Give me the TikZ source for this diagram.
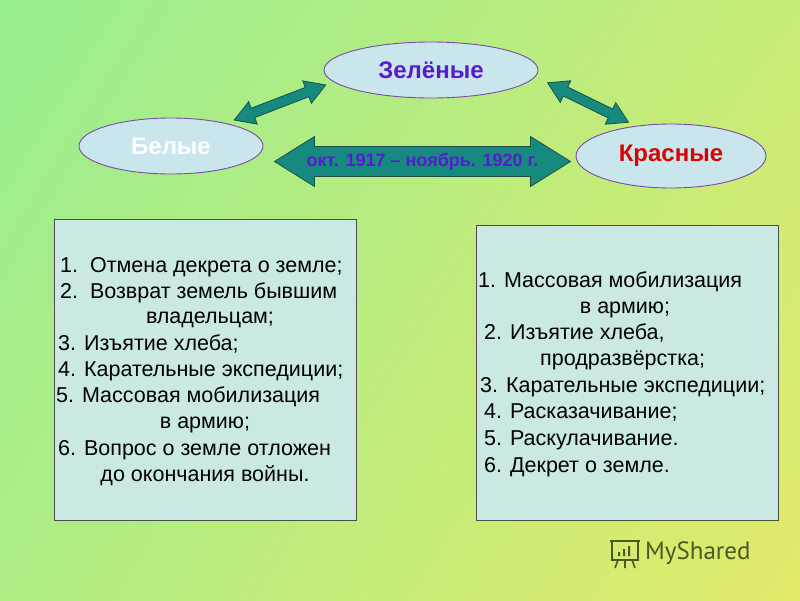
\documentclass[tikz,border=0pt]{standalone}
\usepackage{fontspec}
\setmainfont{Liberation Sans}
\newfontfamily\wmfont{PT Sans}
\usetikzlibrary{shapes.geometric,shadings}
\definecolor{bgA}{HTML}{98EE90}
\definecolor{bgB}{HTML}{E2EA6A}
\definecolor{ellfill}{HTML}{C8E6EC}
\definecolor{ellline}{HTML}{7A4CA8}
\definecolor{arrfill}{HTML}{168A7E}
\definecolor{arrline}{HTML}{1E4F46}
\definecolor{boxfill}{HTML}{C9E9E2}
\definecolor{zel}{HTML}{5A1AD0}
\definecolor{wm}{HTML}{4A5A20}
\newcommand{\dblarrow}[7]{% cx cy angle halflen shafthalf headhalf headlen
  \begin{scope}[shift={(#1,#2)},rotate=#3]
  \draw[arrstyle] (-#4,0) -- (-#4+#7,#6) -- (-#4+#7,#5) -- (#4-#7,#5) -- (#4-#7,#6) -- (#4,0)
     -- (#4-#7,-#6) -- (#4-#7,-#5) -- (-#4+#7,-#5) -- (-#4+#7,-#6) -- cycle;
  \end{scope}}
\begin{document}
\begin{tikzpicture}[x=1pt,y=-1pt,
  ell/.style={ellipse,draw=ellline,fill=ellfill,line width=0.9pt,inner sep=0pt,font=\bfseries\fontsize{24}{28}\selectfont},
  arrstyle/.style={fill=arrfill,draw=arrline,line width=0.8pt},
  box/.style={draw=black!70,fill=boxfill,line width=0.8pt},
  tl/.style={anchor=base west,inner sep=0pt,font=\fontsize{21.5}{24}\selectfont},
  tc/.style={anchor=base,inner sep=0pt,font=\fontsize{21.5}{24}\selectfont}]
\useasboundingbox (0,0) rectangle (800,600);
\shade[upper left=bgA,lower left=bgA!70!bgB,upper right=bgA!35!bgB,lower right=bgB] (0,0) rectangle (800,600);
% arrows
\dblarrow{280}{102.5}{21}{49}{5}{12}{20}
\dblarrow{588}{102.5}{-26}{45}{5}{12}{20}
\dblarrow{422.5}{161.5}{0}{148}{15}{25}{40}
\node[font=\bfseries\fontsize{18}{20}\selectfont,text=zel,inner sep=0pt] (period) at (422.5,162) {окт. 1917 – ноябрь. 1920 г.};
% ellipses
\node[ell,minimum width=214pt,minimum height=56pt,text=zel] (zel) at (431,70) {Зелёные};
\node[ell,minimum width=184pt,minimum height=56pt,text=white] (bel) at (171,146) {Белые};
\node[ell,minimum width=190pt,minimum height=64pt,text=red!85!black] (kra) at (671,156) {Красные};
% boxes
\draw[box] (54,219) rectangle (356,520);
\draw[box] (476,225) rectangle (778,520);
\node[tl] (l1) at (60,272) {1.\ \ Отмена декрета о земле;};
\node[tl] (l2) at (60,298) {2.\ \ Возврат земель бывшим};
\node[tc] (l3) at (210,323) {владельцам;};
\node[tl] (l4) at (58,350) {3. Изъятие хлеба;};
\node[tl] (l5) at (58,376) {4. Карательные экспедиции;};
\node[tl] (l6) at (56,402) {5. Массовая мобилизация};
\node[tc] (l7) at (205,428) {в армию;};
\node[tl] (l8) at (58,455) {6. Вопрос о земле отложен};
\node[tc] (l9) at (205,481) {до окончания войны.};
\node[tl] (r1) at (478,287) {1. Массовая мобилизация};
\node[tc] (r2) at (625,313) {в армию;};
\node[tl] (r3) at (484,339) {2. Изъятие хлеба,};
\node[tl] (r4) at (540,365) {продразвёрстка;};
\node[tl] (r5) at (480,392) {3. Карательные экспедиции;};
\node[tl] (r6) at (484,418) {4. Расказачивание;};
\node[tl] (r7) at (484,445) {5. Раскулачивание.};
\node[tl] (r8) at (484,472) {6. Декрет о земле.};
% watermark
\begin{scope}[draw=wm,line width=1.6pt]
\draw (612,541) rectangle (638,560);
\draw (610,541) -- (640,541);
\fill[wm] (618,552) rectangle (620,556) (623,549) rectangle (625,556) (628,546) rectangle (630,556);
\draw (618,560) -- (615,568) (625,560) -- (625,568) (632,560) -- (635,568);
\end{scope}
\node[anchor=west,inner sep=0pt,text=wm,font=\wmfont\fontsize{25}{28}\selectfont] (wmtext) at (645,553) {MyShared};
\end{tikzpicture}
\end{document}
